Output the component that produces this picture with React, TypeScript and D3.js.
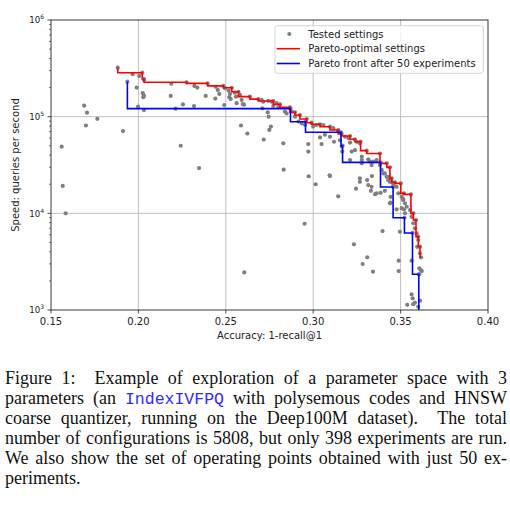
import React, { useLayoutEffect, useRef } from 'react';
import * as d3 from 'd3';

// ---------- data (accuracy = 1-recall@1, speed = queries per second) ----------
const xTickValues = [0.15, 0.2, 0.25, 0.3, 0.35, 0.4];
const xTickLabels = ['0.15', '0.20', '0.25', '0.30', '0.35', '0.40'];
const yMajorValues = [1e3, 1e4, 1e5, 1e6];
const yMajorExponents = ['3', '4', '5', '6'];

const paretoOptimal: [number, number][] = [
  [0.1882, 3.21e5], [0.2022, 2.85e5], [0.2032, 2.45e5], [0.2276, 2.27e5],
  [0.2396, 2.21e5], [0.2486, 2.08e5], [0.2534, 1.99e5], [0.2572, 1.81e5],
  [0.2638, 1.61e5], [0.2686, 1.52e5], [0.2772, 1.45e5], [0.281, 1.34e5],
  [0.2867, 1.25e5], [0.2896, 1.11e5], [0.2924, 1.04e5], [0.2963, 9.46e4],
  [0.2991, 8.66e4], [0.3039, 8.34e4], [0.3096, 7.87e4], [0.3144, 7.28e4],
  [0.3163, 6.62e4], [0.3211, 6.31e4], [0.3239, 5.83e4], [0.3271, 5.51e4],
  [0.3306, 4.45e4], [0.3382, 4.16e4], [0.3421, 3.29e4], [0.3439, 2.99e4],
  [0.3449, 2.3e4], [0.3468, 2.09e4], [0.3501, 2.04e4], [0.3519, 1.61e4],
  [0.3559, 1.57e4], [0.3573, 1.0e4], [0.3588, 8.53e3], [0.3601, 5.73e3],
  [0.3611, 4.52e3], [0.3617, 3.51e3],
];

const paretoAfter50: [number, number][] = [
  [0.1937, 2.3e5], [0.287, 1.21e5], [0.2956, 8.87e4], [0.3159, 6.89e4],
  [0.3168, 5.01e4], [0.3385, 3.37e4], [0.3457, 1.87e4], [0.3522, 9.0e3],
  [0.3568, 6.27e3], [0.3604, 2.34e3], [0.3609, 1.0e3],
];

const testedSettings: [number, number][] = [
  [0.1561, 4.89e4], [0.1567, 1.92e4], [0.1584, 1.0e4], [0.169, 1.3e5],
  [0.1706, 1.1e5], [0.1765, 9.5e4], [0.17, 8.1e4], [0.1912, 7.1e4],
  [0.1967, 2.75e5], [0.2005, 2.64e5], [0.2032, 2.4e5], [0.199, 2.0e5],
  [0.2025, 1.75e5], [0.2032, 1.65e5], [0.2028, 1.59e5], [0.1998, 1.27e5],
  [0.2032, 1.17e5], [0.2242, 5.0e4], [0.2347, 2.94e4], [0.2606, 2.45e3],
  [0.2188, 2.19e5], [0.2185, 1.64e5], [0.2213, 1.21e5], [0.2255, 1.34e5],
  [0.232, 2.08e5], [0.2337, 2.0e5], [0.2318, 1.29e5], [0.2385, 1.64e5],
  [0.244, 1.54e5], [0.2442, 2.04e5], [0.2454, 1.89e5], [0.2463, 1.72e5],
  [0.2495, 1.97e5], [0.2491, 1.32e5], [0.2516, 1.86e5], [0.2524, 1.72e5],
  [0.252, 1.59e5], [0.2528, 1.52e5], [0.2552, 1.77e5], [0.2558, 1.61e5],
  [0.2562, 1.38e5], [0.2581, 1.68e5], [0.2591, 1.49e5], [0.2597, 1.35e5],
  [0.2604, 1.33e5], [0.2705, 1.49e5], [0.2714, 1.43e5], [0.2743, 1.46e5],
  [0.2709, 1.22e5], [0.274, 1.11e5], [0.2745, 1.0e5], [0.2587, 8.1e4],
  [0.2623, 6.7e4], [0.2758, 7.9e4], [0.2749, 7.3e4], [0.2717, 5.8e4],
  [0.2762, 1.43e5], [0.2791, 1.38e5], [0.2772, 1.29e5], [0.28, 1.25e5],
  [0.2831, 2.83e4], [0.2974, 2.42e4], [0.3014, 2.0e4], [0.3094, 2.47e4],
  [0.3143, 1.5e4], [0.2951, 7.8e3], [0.3233, 4.78e3], [0.3309, 3.51e3],
  [0.3283, 2.99e3], [0.3342, 2.49e3], [0.3397, 6.56e3], [0.3489, 3.24e3],
  [0.3489, 2.53e3], [0.3563, 3.24e3], [0.3267, 2.3e4], [0.3267, 2.12e4],
  [0.3309, 2.21e4], [0.3315, 1.96e4], [0.3334, 1.88e4], [0.333, 1.71e4],
  [0.3245, 1.8e4], [0.3363, 1.61e4], [0.3386, 1.63e4], [0.341, 1.71e4],
  [0.3443, 1.48e4], [0.3443, 1.29e4], [0.3477, 1.1e4], [0.3519, 1.1e4],
  [0.3525, 1.0e4], [0.3515, 1.4e4], [0.3607, 2.7e3], [0.3615, 2.59e3],
  [0.3621, 2.53e3], [0.3607, 2.34e3], [0.3563, 1.45e3], [0.3569, 1.32e3],
  [0.3538, 1.13e3], [0.3572, 1.15e3], [0.3582, 1.19e3], [0.3601, 1.08e3],
  [0.3611, 1.25e3], [0.2829, 5.3e4], [0.2972, 5.2e4], [0.2972, 4.35e4],
  [0.3096, 2.43e4], [0.3039, 6.1e4], [0.3048, 5.2e4], [0.3067, 6.5e4],
  [0.3096, 6.2e4], [0.3119, 5.5e4], [0.3153, 5.7e4], [0.3163, 4.9e4],
  [0.3166, 4.35e4], [0.3211, 5.4e4], [0.322, 4.35e4], [0.3239, 4.5e4],
  [0.3211, 3.56e4], [0.3278, 3.86e4], [0.3278, 3.56e4], [0.3278, 3.29e4],
  [0.3315, 3.62e4], [0.3325, 3.43e4], [0.3334, 3.16e4], [0.3344, 3.43e4],
  [0.3363, 3.56e4], [0.3382, 3.16e4], [0.3392, 2.81e4], [0.3401, 2.59e4],
  [0.342, 2.39e4], [0.3429, 2.21e4], [0.3449, 2.12e4], [0.2877, 1.13e5],
  [0.2896, 1.0e5], [0.2915, 8.9e4], [0.2934, 8.5e4], [0.2953, 8.2e4],
  [0.2838, 1.13e5], [0.2848, 1.08e5], [0.3, 7.9e4], [0.302, 8.2e4],
  [0.3058, 8.2e4], [0.3115, 7.6e4], [0.3143, 7.0e4], [0.3182, 6.2e4],
  [0.3201, 6.0e4], [0.3249, 5.5e4], [0.3267, 5.3e4], [0.3336, 2.43e4],
  [0.3354, 1.58e4], [0.3439, 1.27e4], [0.3506, 1.13e4], [0.3496, 6.45e3],
  [0.341, 2.59e4], [0.3429, 2.39e4], [0.3439, 2.12e4], [0.3458, 1.96e4],
  [0.3477, 1.88e4], [0.3487, 1.61e4], [0.3506, 1.48e4], [0.3515, 1.37e4],
  [0.3525, 1.27e4], [0.3535, 1.17e4], [0.3554, 1.08e4], [0.3563, 9.2e3],
  [0.3573, 7.9e3], [0.3582, 7.0e3], [0.3592, 6.2e3], [0.3601, 5.3e3],
  [0.3595, 4.5e3], [0.3611, 3.86e3],
];

const legendLabels = ['Tested settings', 'Pareto-optimal settings', 'Pareto front after 50 experiments'];
const xAxisLabel = 'Accuracy: 1-recall@1';
const yAxisLabel = 'Speed: queries per second';

// caption lines: each line is a list of [text, isCode] pieces
const captionLines: [string, boolean][][] = [
  [['Figure 1:  Example of exploration of a parameter space with 3', false]],
  [['parameters (an ', false], ['IndexIVFPQ', true], [' with polysemous codes and HNSW', false]],
  [['coarse quantizer, running on the Deep100M dataset).  The total', false]],
  [['number of configurations is 5808, but only 398 experiments are run.', false]],
  [['We also show the set of operating points obtained with just 50 ex-', false]],
  [['periments.', false]],
];

const W = 510;
const H = 506;
const PL = 51, PR = 488, PT = 20, PB = 310;

export default function App() {
  const x = d3.scaleLinear().domain([0.15, 0.4]).range([PL, PR]);
  const y = d3.scaleLog().domain([1e3, 1e6]).range([PB, PT]);
  const step = d3
    .line<[number, number]>()
    .x((d) => x(d[0]))
    .y((d) => y(d[1]))
    .curve(d3.curveStepBefore);

  const minor: number[] = [];
  for (let k = 3; k < 6; k++) for (let m = 2; m <= 9; m++) minor.push(m * Math.pow(10, k));

  const capRefs = useRef<(SVGTextElement | null)[]>([]);
  const capLeft = 5, capRight = 507;
  useLayoutEffect(() => {
    captionLines.forEach((line, i) => {
      const el = capRefs.current[i];
      if (!el || i === captionLines.length - 1) return;
      el.style.wordSpacing = '0px';
      const w = el.getComputedTextLength();
      const txt = line.map((p) => p[0]).join('');
      const spaces = (txt.match(/ /g) || []).length;
      if (spaces > 0) el.style.wordSpacing = `${(capRight - capLeft - w) / spaces}px`;
    });
  }, []);

  const sans = 'DejaVu Sans, sans-serif';
  const allDots = [...testedSettings, ...paretoOptimal, ...paretoAfter50.slice(0, -1)];

  return (
    <svg width={W} height={H} style={{ position: 'absolute', left: 0, top: 0, background: '#fff' }}>
      <defs>
        <clipPath id="plot">
          <rect x={PL} y={PT} width={PR - PL} height={PB - PT} />
        </clipPath>
      </defs>
      <rect x={0} y={0} width={W} height={H} fill="#fff" />
      {/* grid */}
      <g stroke="#b8b8b8" strokeWidth={0.9}>
        {xTickValues.slice(1, -1).map((v) => (
          <line key={v} x1={x(v)} x2={x(v)} y1={PT} y2={PB} />
        ))}
        {yMajorValues.slice(1, -1).map((v) => (
          <line key={v} x1={PL} x2={PR} y1={y(v)} y2={y(v)} />
        ))}
      </g>
      {/* data */}
      <g clipPath="url(#plot)">
        {allDots.map((d, i) => (
          <circle key={i} cx={x(d[0])} cy={y(d[1])} r={2.1} fill="#7f7f7f" />
        ))}
        <path d={step(paretoOptimal) || ''} fill="none" stroke="#ff0000" strokeWidth={1.6} />
        <path d={step(paretoAfter50) || ''} fill="none" stroke="#0000ff" strokeWidth={1.6} />
      </g>
      {/* frame */}
      <rect x={PL} y={PT} width={PR - PL} height={PB - PT} fill="none" stroke="#222" strokeWidth={0.9} />
      {/* x ticks */}
      <g fontFamily={sans} fontSize={10} fill="#222">
        {xTickValues.map((v, i) => (
          <g key={v}>
            <line x1={x(v)} x2={x(v)} y1={PB} y2={PB + 3.5} stroke="#222" strokeWidth={0.8} />
            <text x={x(v)} y={PB + 14.5} textAnchor="middle">{xTickLabels[i]}</text>
          </g>
        ))}
        <text x={(PL + PR) / 2} y={339} textAnchor="middle">{xAxisLabel}</text>
      </g>
      {/* y ticks */}
      <g fontFamily={sans} fill="#222">
        {minor.map((v) => (
          <line key={v} x1={PL - 2} x2={PL} y1={y(v)} y2={y(v)} stroke="#222" strokeWidth={0.6} />
        ))}
        {yMajorValues.map((v, i) => (
          <g key={v}>
            <line x1={PL - 3.5} x2={PL} y1={y(v)} y2={y(v)} stroke="#222" strokeWidth={0.8} />
            <text x={44} y={y(v) + 3.3} textAnchor="end" fontSize={8.6}>
              10<tspan fontSize={6} dy={-4}>{yMajorExponents[i]}</tspan>
            </text>
          </g>
        ))}
        <text
          transform={`translate(18.5,${(PT + PB) / 2}) rotate(-90)`}
          textAnchor="middle"
          fontSize={10}
        >
          {yAxisLabel}
        </text>
      </g>
      {/* legend */}
      <g fontFamily={sans} fontSize={10} fill="#222">
        <rect x={275} y={25.7} width={208.3} height={47.6} rx={2.5} fill="#fff" fillOpacity={0.8} stroke="#d0d0d0" strokeWidth={0.9} />
        <circle cx={289.3} cy={34} r={2.1} fill="#7f7f7f" />
        <line x1={276.7} x2={300} y1={48.7} y2={48.7} stroke="#ff0000" strokeWidth={1.6} />
        <line x1={276.7} x2={300} y1={63.5} y2={63.5} stroke="#0000ff" strokeWidth={1.6} />
        {legendLabels.map((t, i) => (
          <text key={t} x={308.3} y={34 + i * 14.75 + 3.6}>{t}</text>
        ))}
      </g>
      {/* caption */}
      <g fontFamily="Liberation Serif, serif" fontSize={18} fill="#111">
        {captionLines.map((line, i) => (
          <text
            key={i}
            ref={(el) => { capRefs.current[i] = el; }}
            x={capLeft}
            y={384 + i * 20}
            style={{ whiteSpace: 'pre' }}
          >
            {line.map((p, j) =>
              p[1] ? (
                <tspan key={j} fontFamily="Liberation Mono, DejaVu Sans Mono, monospace" fontSize={16.5} fill="#2b2bff">
                  {p[0]}
                </tspan>
              ) : (
                <tspan key={j}>{p[0]}</tspan>
              )
            )}
          </text>
        ))}
      </g>
    </svg>
  );
}
